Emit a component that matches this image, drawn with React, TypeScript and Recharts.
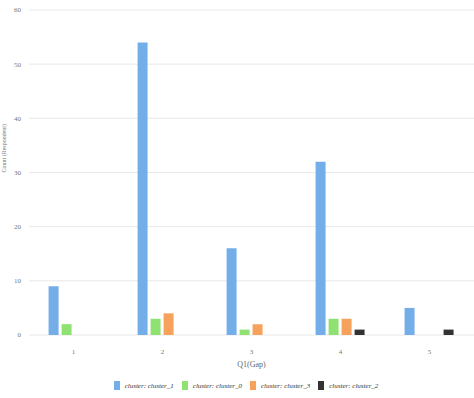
import React from "react";
import { BarChart, Bar, XAxis, YAxis, CartesianGrid, Legend } from "recharts";

const categories = ["1", "2", "3", "4", "5"];
const cluster1 = [9, 54, 16, 32, 5];
const cluster0 = [2, 3, 1, 3, 0];
const cluster3 = [0, 4, 2, 3, 0];
const cluster2 = [0, 0, 0, 1, 1];
const yTicks = [0, 10, 20, 30, 40, 50, 60];

const seriesKeys = ["c1", "c0", "c3", "c2"];
const seriesNames = ["cluster: cluster_1", "cluster: cluster_0", "cluster: cluster_3", "cluster: cluster_2"];
const seriesColors = ["#74aee9", "#8fe272", "#f6a25c", "#333333"];

const data = categories.map((c, i) => ({
  cat: c,
  c1: cluster1[i],
  c0: cluster0[i],
  c3: cluster3[i],
  c2: cluster2[i],
}));

const tickStyle = { fontSize: 7, fill: "#777", fontFamily: "Liberation Serif" };

function LegendContent() {
  return (
    <div style={{ display: "flex", justifyContent: "center", paddingTop: 12, paddingLeft: 18, fontSize: 7, fontStyle: "italic", fontFamily: "Liberation Serif", color: "#333" }}>
      {seriesNames.map((n, i) => (
        <div key={n} style={{ display: "flex", alignItems: "center", margin: "0 4px" }}>
          <span style={{ display: "inline-block", width: 6, height: 9, background: seriesColors[i], marginRight: 5 }} />
          <span>{n}</span>
        </div>
      ))}
    </div>
  );
}

export default function App() {
  return (
    <div style={{ position: "absolute", left: 0, top: 0 }}>
      <BarChart
        width={474}
        height={398}
        data={data}
        margin={{ top: 10, right: 0, left: 0, bottom: 2 }}
        barCategoryGap="22%"
        barGap={3}
      >
        <CartesianGrid vertical={false} stroke="#e8e8e8" />
        <XAxis
          dataKey="cat"
          axisLine={false}
          tickLine={false}
          tick={tickStyle}
          height={34}
          tickMargin={8}
          label={{ value: "Q1(Gap)", position: "insideBottom", offset: 2, fontSize: 8, fill: "#666", fontFamily: "Liberation Serif" }}
        />
        <YAxis
          domain={[0, 60]}
          ticks={yTicks}
          axisLine={false}
          tickLine={false}
          tick={tickStyle}
          width={29}
          label={{ value: "Count (Respondent)", angle: -90, position: "insideLeft", offset: 4, fontSize: 6, fill: "#777", fontFamily: "Liberation Serif" }}
        />
        <Legend verticalAlign="bottom" height={27} content={<LegendContent />} />
        {seriesKeys.map((k, i) => (
          <Bar key={k} dataKey={k} name={seriesNames[i]} fill={seriesColors[i]} isAnimationActive={false} />
        ))}
      </BarChart>
    </div>
  );
}
